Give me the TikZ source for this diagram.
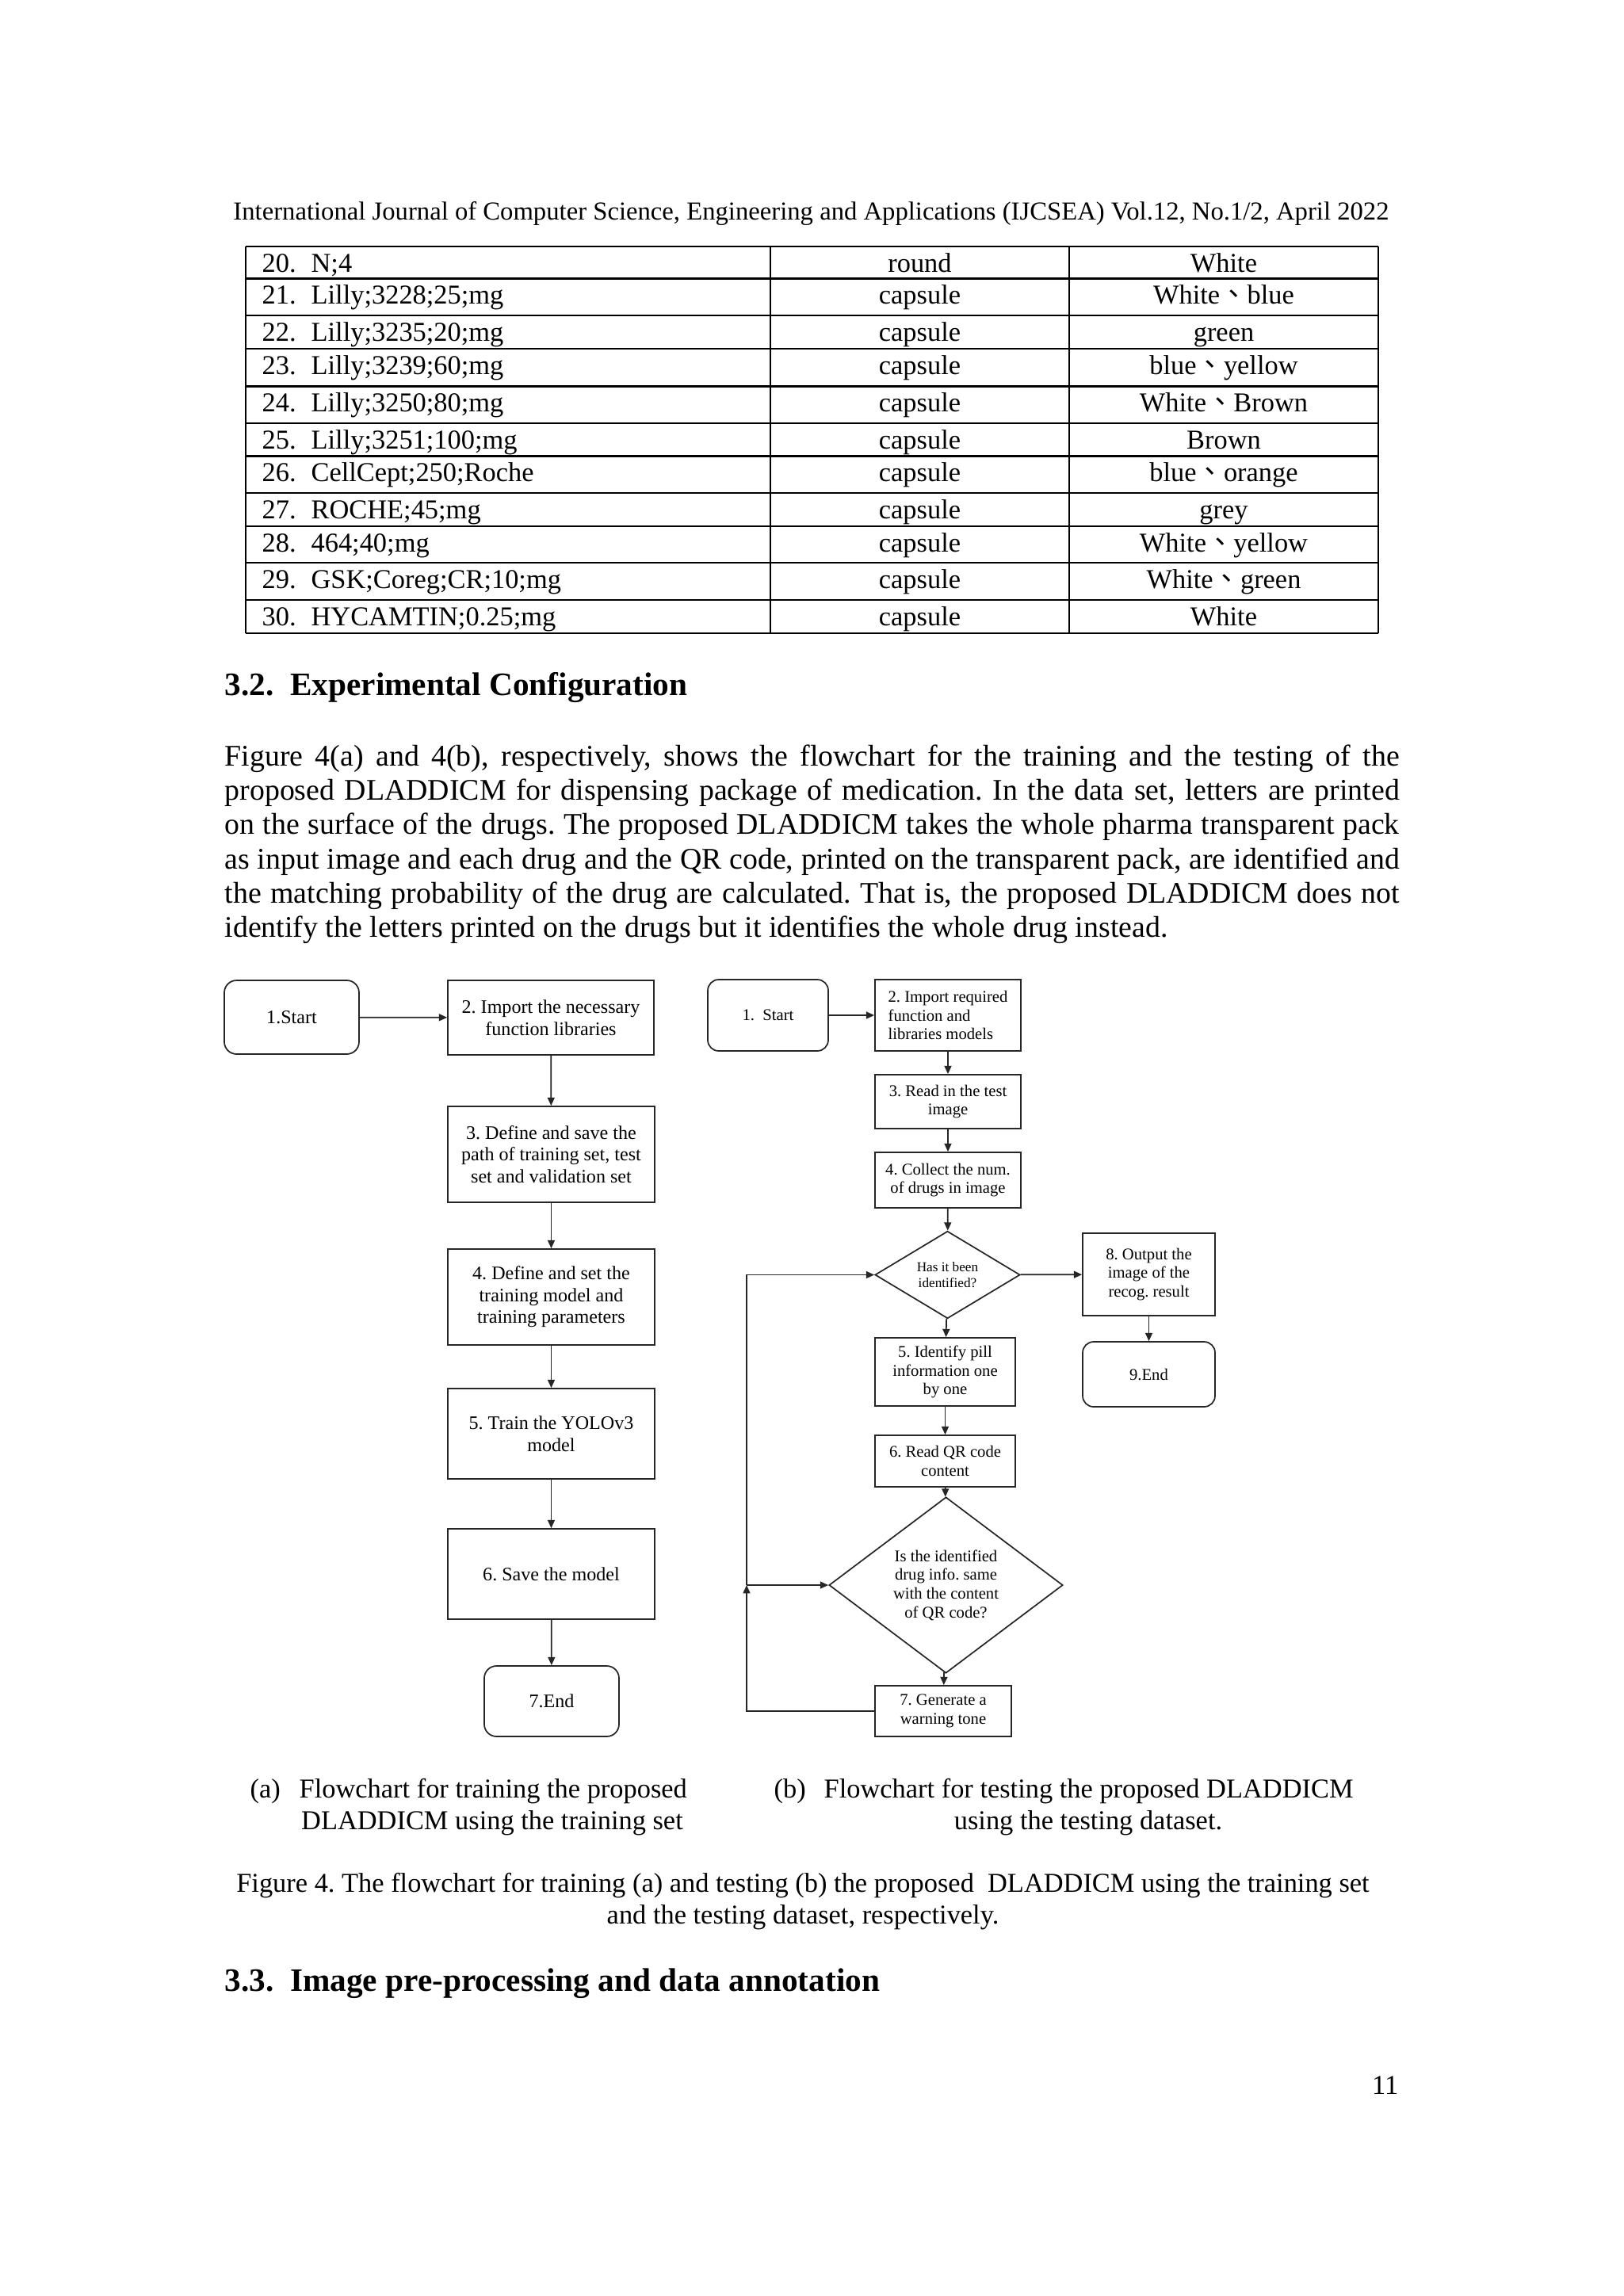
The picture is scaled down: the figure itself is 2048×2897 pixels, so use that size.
\documentclass[tikz,border=0pt]{standalone}
\usepackage{fontspec}
\setmainfont{Liberation Serif}
\newfontfamily\cjk{Noto Sans CJK TC}
\usetikzlibrary{shapes.geometric,arrows.meta}
\frenchspacing
\newcommand\pxu{0.290664pt}
\newcommand\dun{{\cjk 、}}
\newcommand\rowno[1]{\makebox[18pt][l]{#1}}
\newcommand\jline[1]{\makebox[430.8pt][s]{#1}}
\begin{document}
\begin{tikzpicture}[x=0.290664pt,y=-0.290664pt,
    >={Triangle[length=3pt,width=2.6pt]},
    flow/.style={->,line width=0.5pt,draw=black!85},
    dims/.style 2 args={minimum width=#1*\pxu,minimum height=#2*\pxu},
    stepa/.style={draw=black!85,line width=0.5pt,inner sep=0pt,align=center,font=\fontsize{7}{8}\selectfont},
    enda/.style={stepa,rounded corners=4.5pt},
    stepb/.style={stepa,font=\fontsize{6}{6.9}\selectfont},
    endb/.style={stepb,rounded corners=4pt},
    choice/.style={stepb,diamond},
    bodytext/.style={inner sep=0pt,anchor=base west,font=\fontsize{11}{12.65}\selectfont},
    headtext/.style={inner sep=0pt,anchor=base west,font=\bfseries\fontsize{12}{14}\selectfont},
    captext/.style={inner sep=0pt,font=\fontsize{10}{11.5}\selectfont},
    tabl/.style={inner sep=0pt,anchor=base west,font=\fontsize{10}{11.5}\selectfont},
    tabc/.style={tabl,anchor=base},
    tabrule/.style={line width=0.6pt}]
\fill[white] (0,0) rectangle (2048,2897);
\useasboundingbox (0,0) rectangle (2048,2897);

% running head
\node[captext,anchor=base,font=\fontsize{9.5}{11}\selectfont] (head) at (1023.5,277)
    {International Journal of Computer Science, Engineering and Applications (IJCSEA) Vol.12, No.1/2, April 2022};

% table (rows 20--30)
\draw[tabrule] (310,311) -- (1739,311) (310,351.5) -- (1739,351.5) (310,398) -- (1739,398)
    (310,440) -- (1739,440) (310,487.5) -- (1739,487.5) (310,534) -- (1739,534)
    (310,575.5) -- (1739,575.5) (310,622) -- (1739,622) (310,664) -- (1739,664)
    (310,710) -- (1739,710) (310,757) -- (1739,757) (310,799) -- (1739,799);
\draw[tabrule] (310,311) -- (310,799) (972,311) -- (972,799) (1349,311) -- (1349,799) (1739,311) -- (1739,799);
\path (330,343) node[tabl] (r20a) {\rowno{20.}N;4} (1160.5,343) node[tabc] (r20b) {round} (1544,343) node[tabc] (r20c) {White};
\path (330,383.5) node[tabl] (r21a) {\rowno{21.}Lilly;3228;25;mg} (1160.5,383.5) node[tabc] (r21b) {capsule} (1544,383.5) node[tabc] (r21c) {White\dun blue};
\path (330,430) node[tabl] (r22a) {\rowno{22.}Lilly;3235;20;mg} (1160.5,430) node[tabc] (r22b) {capsule} (1544,430) node[tabc] (r22c) {green};
\path (330,472) node[tabl] (r23a) {\rowno{23.}Lilly;3239;60;mg} (1160.5,472) node[tabc] (r23b) {capsule} (1544,472) node[tabc] (r23c) {blue\dun yellow};
\path (330,519.5) node[tabl] (r24a) {\rowno{24.}Lilly;3250;80;mg} (1160.5,519.5) node[tabc] (r24b) {capsule} (1544,519.5) node[tabc] (r24c) {White\dun Brown};
\path (330,566) node[tabl] (r25a) {\rowno{25.}Lilly;3251;100;mg} (1160.5,566) node[tabc] (r25b) {capsule} (1544,566) node[tabc] (r25c) {Brown};
\path (330,607.5) node[tabl] (r26a) {\rowno{26.}CellCept;250;Roche} (1160.5,607.5) node[tabc] (r26b) {capsule} (1544,607.5) node[tabc] (r26c) {blue\dun orange};
\path (330,654) node[tabl] (r27a) {\rowno{27.}ROCHE;45;mg} (1160.5,654) node[tabc] (r27b) {capsule} (1544,654) node[tabc] (r27c) {grey};
\path (330,696) node[tabl] (r28a) {\rowno{28.}464;40;mg} (1160.5,696) node[tabc] (r28b) {capsule} (1544,696) node[tabc] (r28c) {White\dun yellow};
\path (330,742) node[tabl] (r29a) {\rowno{29.}GSK;Coreg;CR;10;mg} (1160.5,742) node[tabc] (r29b) {capsule} (1544,742) node[tabc] (r29c) {White\dun green};
\path (330,789) node[tabl] (r30a) {\rowno{30.}HYCAMTIN;0.25;mg} (1160.5,789) node[tabc] (r30b) {capsule} (1544,789) node[tabc] (r30c) {White};

% section 3.2 and its paragraph
\node[headtext] (sec32) at (283,877) {3.2.~ Experimental Configuration};
\node[bodytext] (par1) at (283,966) {\jline{Figure 4(a) and 4(b), respectively, shows the flowchart for the training and the testing of the}};
\node[bodytext] (par2) at (283,1009) {\jline{proposed DLADDICM for dispensing package of medication. In the data set, letters are printed}};
\node[bodytext] (par3) at (283,1052) {\jline{on the surface of the drugs. The proposed DLADDICM takes the whole pharma transparent pack}};
\node[bodytext] (par4) at (283,1096) {\jline{as input image and each drug and the QR code, printed on the transparent pack, are identified and}};
\node[bodytext] (par5) at (283,1139) {\jline{the matching probability of the drug are calculated. That is, the proposed DLADDICM does not}};
\node[bodytext] (par6) at (283,1182) {identify the letters printed on the drugs but it identifies the whole drug instead.};

% flowchart (a): training
\node[enda,dims={170}{93}] (a1) at (368,1283.5) {1.Start};
\node[stepa,dims={260}{94}] (a2) at (695,1284) {2. Import the necessary\\function libraries};
\node[stepa,dims={261}{121}] (a3) at (695.5,1456.5) {3. Define and save the\\path of training set, test\\set and validation set};
\node[stepa,dims={261}{121}] (a4) at (695.5,1636.5) {4. Define and set the\\training model and\\training parameters};
\node[stepa,dims={261}{114}] (a5) at (695.5,1809) {5. Train the YOLOv3\\model};
\node[stepa,dims={261}{114}] (a6) at (695.5,1986) {6. Save the model};
\node[enda,dims={170}{89}] (a7) at (696,2146.5) {7.End};
\draw[flow] (a1) -- (a2);
\draw[flow] (a2) -- (a3);
\draw[flow] (a3) -- (a4);
\draw[flow] (a4) -- (a5);
\draw[flow] (a5) -- (a6);
\draw[flow] (a6) -- (a7);

% flowchart (b): testing
\node[endb,dims={152}{90}] (b1) at (969,1281) {1.~ Start};
\node[stepb,dims={184}{90},align=left] (b2) at (1196,1281) {2. Import required\\function and\\libraries models};
\node[stepb,dims={184}{68}] (b3) at (1196,1390) {3. Read in the test\\image};
\node[stepb,dims={184}{70}] (b4) at (1196,1489) {4. Collect the num.\\of drugs in image};
\node[choice,dims={183}{103},font=\fontsize{5}{6}\selectfont] (d1) at (1195.5,1608.5) {Has it been\\identified?};
\node[stepb,dims={167}{104}] (b8) at (1449.5,1608) {8. Output the\\image of the\\recog. result};
\node[endb,dims={167}{82}] (b9) at (1449.5,1734) {9.End};
\node[stepb,dims={177}{86}] (b5) at (1192.5,1731) {5. Identify pill\\information one\\by one};
\node[stepb,dims={177}{65}] (b6) at (1192.5,1843.5) {6. Read QR code\\content};
\node[choice,dims={295}{200}] (d2) at (1193.5,2000) {Is the identified\\drug info. same\\with the content\\of QR code?};
\node[stepb,dims={172}{64}] (b7) at (1190,2159) {7. Generate a\\warning tone};
\coordinate (loopb) at (942,2159);
\coordinate (loopm) at (942,2000);
\coordinate (loopt) at (942,1608.5);
\draw[flow] (b1) -- (b2);
\draw[flow] (b2) -- (b3);
\draw[flow] (b3) -- (b4);
\draw[flow] (b4) -- (d1);
\draw[flow] (d1) -- (b8);
\draw[flow] (b8) -- (b9);
\draw[flow] (d1) -- (b5);
\draw[flow] (b5) -- (b6);
\draw[flow] (b6) -- (d2);
\draw[flow] (d2) -- (b7);
\draw[flow] (b7.west) -- (loopb) -- (loopm);
\draw[flow] (loopm) -- (d2.west);
\draw[flow] (loopm) -- (loopt) -- (d1.west);

% sub-captions and caption
\node[captext,anchor=base west] (capa0) at (315,2268) {(a)};
\node[captext,anchor=base west] (capa1) at (377,2268) {Flowchart for training the proposed};
\node[captext,anchor=base] (capa2) at (621,2308) {DLADDICM using the training set};
\node[captext,anchor=base west] (capb0) at (976,2268) {(b)};
\node[captext,anchor=base west] (capb1) at (1039,2268) {Flowchart for testing the proposed DLADDICM};
\node[captext,anchor=base] (capb2) at (1373,2308) {using the testing dataset.};
\node[captext,anchor=base] (fig1) at (1013,2387) {Figure 4. The flowchart for training (a) and testing (b) the proposed~ DLADDICM using the training set};
\node[captext,anchor=base] (fig2) at (1013,2427) {and the testing dataset, respectively.};

% section 3.3 and page number
\node[headtext] (sec33) at (283,2512) {3.3.~ Image pre-processing and data annotation};
\node[captext,anchor=base east] (pageno) at (1765,2642) {11};
\end{tikzpicture}
\end{document}
